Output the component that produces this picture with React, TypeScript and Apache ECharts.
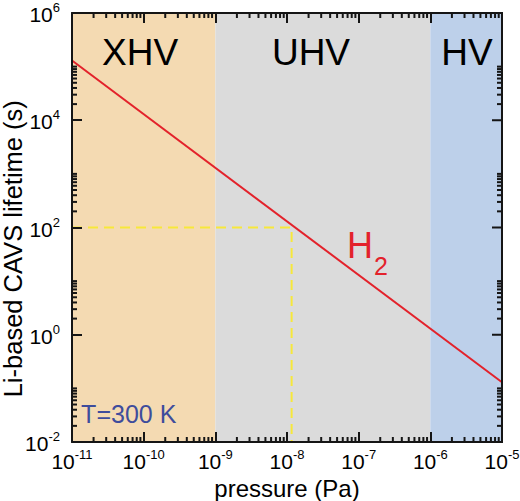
import React, { useEffect, useRef } from "react";
import * as echarts from "echarts";

// ---- data ----
const X_MIN = 1e-11;
const X_MAX = 1e-5;
const Y_MIN = 1e-2;
const Y_MAX = 1e6;

const regionFrom = [1e-11, 1e-9, 1e-6];
const regionTo = [1e-9, 1e-6, 1e-5];
const regionColors = ["#F4DAB2", "#DBDBDB", "#BDD0EA"];

// H2 lifetime line (pressure Pa, lifetime s)
const h2Pressure = [1e-11, 1e-5];
const h2Lifetime = [1.3e5, 0.13];

// yellow guide: 100 s lifetime
const guidePressure = [1e-11, 1.16e-8, 1.16e-8];
const guideLifetime = [100, 100, 1e-2];

// tick positions
const xMinorDecades = [-11, -10, -9, -8, -7, -6];
const xMinorMult = [2, 3, 4, 5, 6, 7, 8, 9];
const yMinorDecades = [-2, 0, 2, 4];
const yMinorMult = [2, 3, 4, 5, 6, 7, 8, 9, 10];
const yMajor = [1e-2, 1, 1e2, 1e4, 1e6];

// annotations (anchored in data coordinates)
const annoText = ["XHV", "UHV", "HV", "H", "2", "T=300 K"];
const annoX = [8.9e-11, 2.16e-8, 3.25e-6, 6.87e-8, 1.64e-7, 1.34e-11];
const annoY = [1.87e5, 1.87e5, 1.87e5, 45.2, 19.1, 0.0333];
const annoSize = [37, 37, 37, 36, 25, 25];
const annoColor = ["#000", "#000", "#000", "#E3222B", "#E3222B", "#3E4C9C"];
const annoAlign = ["center", "center", "center", "left", "left", "left"];

const FONT = "'Liberation Sans', Arial, Helvetica, sans-serif";
const NBSP6 = "\u00A0\u00A0\u00A0\u00A0\u00A0\u00A0";
const INK = "#151515";

export default function App() {
  const ref = useRef<HTMLDivElement>(null);

  useEffect(() => {
    document.body.style.margin = "0";
    if (!ref.current) return;
    const chart = echarts.init(ref.current, null, { renderer: "svg" });

    const xMinorData: number[][] = [];
    xMinorDecades.forEach((n) =>
      xMinorMult.forEach((k) => {
        xMinorData.push([k * Math.pow(10, n), Y_MIN]);
        xMinorData.push([k * Math.pow(10, n), Y_MAX]);
      })
    );
    const yMinorData: number[][] = [];
    yMinorDecades.forEach((n) =>
      yMinorMult.forEach((k) => {
        yMinorData.push([X_MIN, k * Math.pow(10, n), 5]);
        yMinorData.push([X_MAX, k * Math.pow(10, n), 5]);
      })
    );
    yMajor.forEach((v) => yMinorData.push([X_MAX, v, 10]));
    const regionData = regionFrom.map((f, i) => [f, regionTo[i], i]);
    const annoData = annoX.map((x, i) => [x, annoY[i], i]);

    const expLabel = (v: number) => `{b|10}{s|${Math.round(Math.log10(v))}}`;
    const mkRich = () => ({
      b: { fontSize: 21, fontFamily: FONT, color: "#000", verticalAlign: "bottom", lineHeight: 24 },
      s: { fontSize: 13, fontFamily: FONT, color: "#000", verticalAlign: "top", lineHeight: 14 },
    });

    const h2Data = h2Pressure.map((p, i) => [p, h2Lifetime[i]]);
    const guideData = guidePressure.map((p, i) => [p, guideLifetime[i]]);

    const option: any = {
      animation: false,
      grid: { left: 72, top: 13, right: 18, bottom: 59, outerBoundsMode: "none" },
      xAxis: [
        {
          type: "log",
          min: X_MIN,
          max: X_MAX,
          interval: 1,
          z: 10,
          position: "bottom",
          name: "pressure (Pa)",
          nameLocation: "middle",
          nameGap: 33,
          nameTextStyle: { fontSize: 24, fontFamily: FONT, color: "#000" },
          axisLine: { lineStyle: { color: INK, width: 2 } },
          axisTick: { show: true, inside: true, length: 10, lineStyle: { color: INK, width: 2 } },
          axisLabel: { formatter: expLabel, rich: mkRich(), margin: 6 },
          splitLine: { show: true, lineStyle: { color: "rgba(0,0,0,0)", width: 0 } },
        },
        {
          type: "log",
          min: X_MIN,
          max: X_MAX,
          interval: 1,
          z: 10,
          position: "top",
          axisLine: { lineStyle: { color: INK, width: 2 } },
          axisTick: { show: true, inside: true, length: 10, lineStyle: { color: INK, width: 2 } },
          axisLabel: { show: false },
          splitLine: { show: true, lineStyle: { color: "rgba(0,0,0,0)", width: 0 } },
        },
      ],
      yAxis: [
        {
          type: "log",
          min: Y_MIN,
          max: Y_MAX,
          interval: 2,
          z: 10,
          name: "Li-based CAVS lifetime (s)" + NBSP6,
          nameLocation: "middle",
          nameGap: 46,
          nameRotate: 90,
          nameMoveOverlap: false,
          nameTextStyle: { fontSize: 25.5, fontFamily: FONT, color: "#000" },
          axisLine: { show: true, lineStyle: { color: INK, width: 2 } },
          axisTick: { show: true, inside: true, length: 10, lineStyle: { color: INK, width: 2 } },
          axisLabel: { formatter: expLabel, rich: mkRich(), margin: 12 },
          splitLine: { show: true, lineStyle: { color: "rgba(0,0,0,0)", width: 0 } },
        },
      ],
      series: [
        {
          type: "custom",
          data: regionData,
          silent: true,
          z: 0,
          renderItem: (_p: any, api: any) => {
            const a = api.coord([api.value(0), Y_MAX]);
            const b = api.coord([api.value(1), Y_MIN]);
            return {
              type: "rect",
              shape: { x: a[0], y: a[1], width: b[0] - a[0], height: b[1] - a[1] },
              style: { fill: regionColors[api.value(2)] },
            };
          },
        },
        {
          type: "line",
          data: guideData,
          symbol: "none",
          lineStyle: { color: "#F7E83A", width: 2, type: [10, 6] },
          z: 3,
        },
        {
          type: "line",
          data: h2Data,
          symbol: "none",
          lineStyle: { color: "#E3222B", width: 2 },
          z: 4,
        },
        {
          type: "custom",
          data: xMinorData,
          silent: true,
          z: 30,
          renderItem: (_p: any, api: any) => {
            const c = api.coord([api.value(0), api.value(1)]);
            const d = api.value(1) > 1 ? 5 : -5;
            return {
              type: "line",
              shape: { x1: c[0], y1: c[1], x2: c[0], y2: c[1] + d },
              style: { stroke: INK, lineWidth: 2 },
            };
          },
        },
        {
          type: "custom",
          data: yMinorData,
          silent: true,
          z: 30,
          renderItem: (_p: any, api: any) => {
            const c = api.coord([api.value(0), api.value(1)]);
            const len = api.value(2);
            const d = api.value(0) > 1e-8 ? -len : len;
            return {
              type: "line",
              shape: { x1: c[0], y1: c[1], x2: c[0] + d, y2: c[1] },
              style: { stroke: INK, lineWidth: 2 },
            };
          },
        },
        {
          type: "custom",
          data: [[X_MAX, Y_MIN]],
          silent: true,
          z: 30,
          renderItem: (_p: any, api: any) => {
            const b = api.coord([X_MAX, Y_MIN]);
            const t = api.coord([X_MAX, Y_MAX]);
            return {
              type: "line",
              shape: { x1: b[0], y1: b[1] + 1, x2: t[0], y2: t[1] - 1 },
              style: { stroke: INK, lineWidth: 2 },
            };
          },
        },
        {
          type: "custom",
          data: annoData,
          silent: true,
          z: 20,
          renderItem: (_p: any, api: any) => {
            const i = api.value(2);
            const c = api.coord([api.value(0), api.value(1)]);
            return {
              type: "text",
              x: c[0],
              y: c[1],
              style: {
                text: annoText[i],
                font: `${annoSize[i]}px ${FONT}`,
                fill: annoColor[i],
                align: annoAlign[i],
                verticalAlign: "middle",
              },
            };
          },
        },
      ],
    };

    chart.setOption(option);
    return () => chart.dispose();
  }, []);

  return <div ref={ref} style={{ width: 520, height: 501 }} />;
}
